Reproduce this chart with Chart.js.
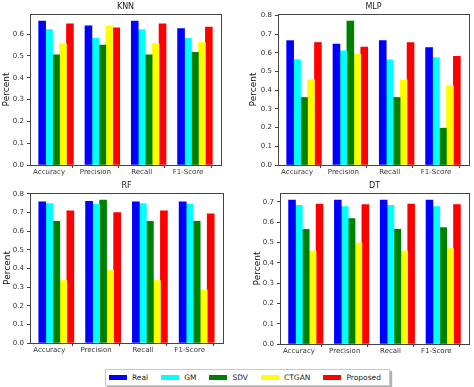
<!DOCTYPE html>
<html>
<head>
<meta charset="utf-8">
<script src="https://cdn.jsdelivr.net/npm/chart.js"></script>
<style>
    body { margin: 0; background: #fff; }
    #wrap { position: relative; width: 474px; height: 387px; overflow: hidden; }
    #wrap canvas { position: absolute; }
    #legend {
        position: absolute; left: 105px; top: 369px; width: 283px; height: 15px;
        border: 1px solid #c8c8c8; background: #fff;
        box-shadow: 2px 2px 1px #b0b0b0;
        display: flex; align-items: center;
        font: 7.5px "DejaVu Sans", sans-serif; color: #222;
    }
    .item { display: flex; align-items: center; margin-left: 3px; margin-right: 10px; }
    .swatch { width: 18px; height: 5px; margin-right: 5px; }
</style>
</head>
<body>
<div id="wrap">
    <canvas id="knn" width="237" height="180" style="left:0;top:0"></canvas>
    <canvas id="mlp" width="237" height="180" style="left:237px;top:0"></canvas>
    <canvas id="rf" width="237" height="180" style="left:0;top:180px"></canvas>
    <canvas id="dt" width="237" height="180" style="left:237px;top:180px"></canvas>
    <div id="legend"></div>
</div>
<script>
const categories = ['Accuracy', 'Precision', 'Recall', 'F1-Score'];
const seriesNames = ['Real', 'GM', 'SDV', 'CTGAN', 'Proposed'];
const seriesColors = ['#0000ff', '#00ffff', '#008000', '#ffff00', '#ff0000'];

const knnReal = [0.659, 0.638, 0.659, 0.625];
const knnGM = [0.620, 0.581, 0.620, 0.580];
const knnSDV = [0.505, 0.550, 0.505, 0.516];
const knnCTGAN = [0.556, 0.638, 0.556, 0.561];
const knnProposed = [0.647, 0.629, 0.647, 0.632];

const mlpReal = [0.665, 0.646, 0.665, 0.628];
const mlpGM = [0.563, 0.610, 0.563, 0.574];
const mlpSDV = [0.361, 0.769, 0.361, 0.197];
const mlpCTGAN = [0.456, 0.592, 0.456, 0.424];
const mlpProposed = [0.655, 0.630, 0.655, 0.581];

const rfReal = [0.757, 0.760, 0.757, 0.757];
const rfGM = [0.748, 0.745, 0.748, 0.745];
const rfSDV = [0.652, 0.766, 0.652, 0.652];
const rfCTGAN = [0.335, 0.389, 0.335, 0.284];
const rfProposed = [0.709, 0.699, 0.709, 0.693];

const dtReal = [0.708, 0.708, 0.708, 0.708];
const dtGM = [0.683, 0.677, 0.683, 0.677];
const dtSDV = [0.564, 0.617, 0.564, 0.573];
const dtCTGAN = [0.458, 0.497, 0.458, 0.470];
const dtProposed = [0.689, 0.687, 0.689, 0.687];

const barWidth = 0.15;

// layout of each panel (axis sizes in px)
const panels = [
    { id: 'knn', title: 'KNN', series: [knnReal, knnGM, knnSDV, knnCTGAN, knnProposed], yw: 30, pr: 16, pt: 14, xh: 15, titlePad: 1.5 },
    { id: 'mlp', title: 'MLP', series: [mlpReal, mlpGM, mlpSDV, mlpCTGAN, mlpProposed], yw: 41, pr: 5, pt: 14, xh: 15, titlePad: 11.5 },
    { id: 'rf', title: 'RF', series: [rfReal, rfGM, rfSDV, rfCTGAN, rfProposed], yw: 30, pr: 14, pt: 13, xh: 17, titlePad: 2.5 },
    { id: 'dt', title: 'DT', series: [dtReal, dtGM, dtSDV, dtCTGAN, dtProposed], yw: 43, pr: 5, pt: 13, xh: 16, titlePad: 15.5 }
];

const frameAndTitle = {
    id: 'frameAndTitle',
    afterDraw(chart, args, opts) {
        const { ctx, chartArea: a } = chart;
        ctx.save();
        ctx.strokeStyle = '#444';
        ctx.lineWidth = 1;
        ctx.strokeRect(Math.round(a.left) + 0.5, Math.round(a.top) + 0.5, Math.round(a.right - a.left), Math.round(a.bottom - a.top));
        ctx.fillStyle = '#222';
        ctx.font = '8px "DejaVu Sans"';
        ctx.textAlign = 'center';
        ctx.textBaseline = 'middle';
        ctx.fillText(opts.text, (a.left + a.right) / 2, a.top - 7);
        ctx.restore();
    }
};

panels.forEach(p => {
    const ymax = Math.max(...p.series.flat()) * 1.05;
    const datasets = p.series.map((vals, k) => ({
        label: seriesNames[k],
        data: vals.map((v, i) => ({ x: i + (k - 1) * barWidth, y: v })),
        backgroundColor: seriesColors[k],
        borderWidth: 0,
        grouped: false,
        categoryPercentage: 1,
        barPercentage: 1
    }));

    new Chart(document.getElementById(p.id), {
        type: 'bar',
        data: { datasets },
        plugins: [frameAndTitle],
        options: {
            responsive: false,
            animation: false,
            layout: { padding: { left: 0, right: p.pr, top: p.pt, bottom: 0 } },
            plugins: {
                legend: { display: false },
                tooltip: { enabled: false },
                frameAndTitle: { text: p.title }
            },
            scales: {
                x: {
                    type: 'linear',
                    min: -0.4125,
                    max: 3.7125,
                    offset: false,
                    afterBuildTicks: s => { s.ticks = categories.map((c, i) => ({ value: i })); },
                    afterFit: s => { s.height = p.xh; },
                    ticks: {
                        autoSkip: false, maxRotation: 0, padding: 0,
                        color: '#333', font: { family: 'DejaVu Sans', size: 7 },
                        callback: v => categories[v]
                    },
                    grid: { display: true, drawOnChartArea: false, drawTicks: true, tickLength: 3, color: '#444' },
                    border: { display: false }
                },
                y: {
                    min: 0,
                    max: ymax,
                    afterBuildTicks: s => {
                        const t = [];
                        for (let v = 0; v <= ymax + 1e-9; v += 0.1) t.push({ value: Math.round(v * 10) / 10 });
                        s.ticks = t;
                    },
                    afterFit: s => { s.width = p.yw; },
                    ticks: {
                        padding: 3,
                        color: '#333', font: { family: 'DejaVu Sans', size: 7 },
                        callback: v => v.toFixed(1)
                    },
                    title: {
                        display: true, text: 'Percent', color: '#111',
                        font: { family: 'DejaVu Sans', size: 9 },
                        padding: { top: p.titlePad, bottom: 0 }
                    },
                    grid: { display: true, drawOnChartArea: false, drawTicks: true, tickLength: 3, color: '#444' },
                    border: { display: false }
                }
            }
        }
    });
});

const legend = document.getElementById('legend');
seriesNames.forEach((name, k) => {
    const item = document.createElement('div');
    item.className = 'item';
    item.innerHTML = `<span class="swatch" style="background:${seriesColors[k]}"></span>${name}`;
    legend.appendChild(item);
});
</script>
</body>
</html>
